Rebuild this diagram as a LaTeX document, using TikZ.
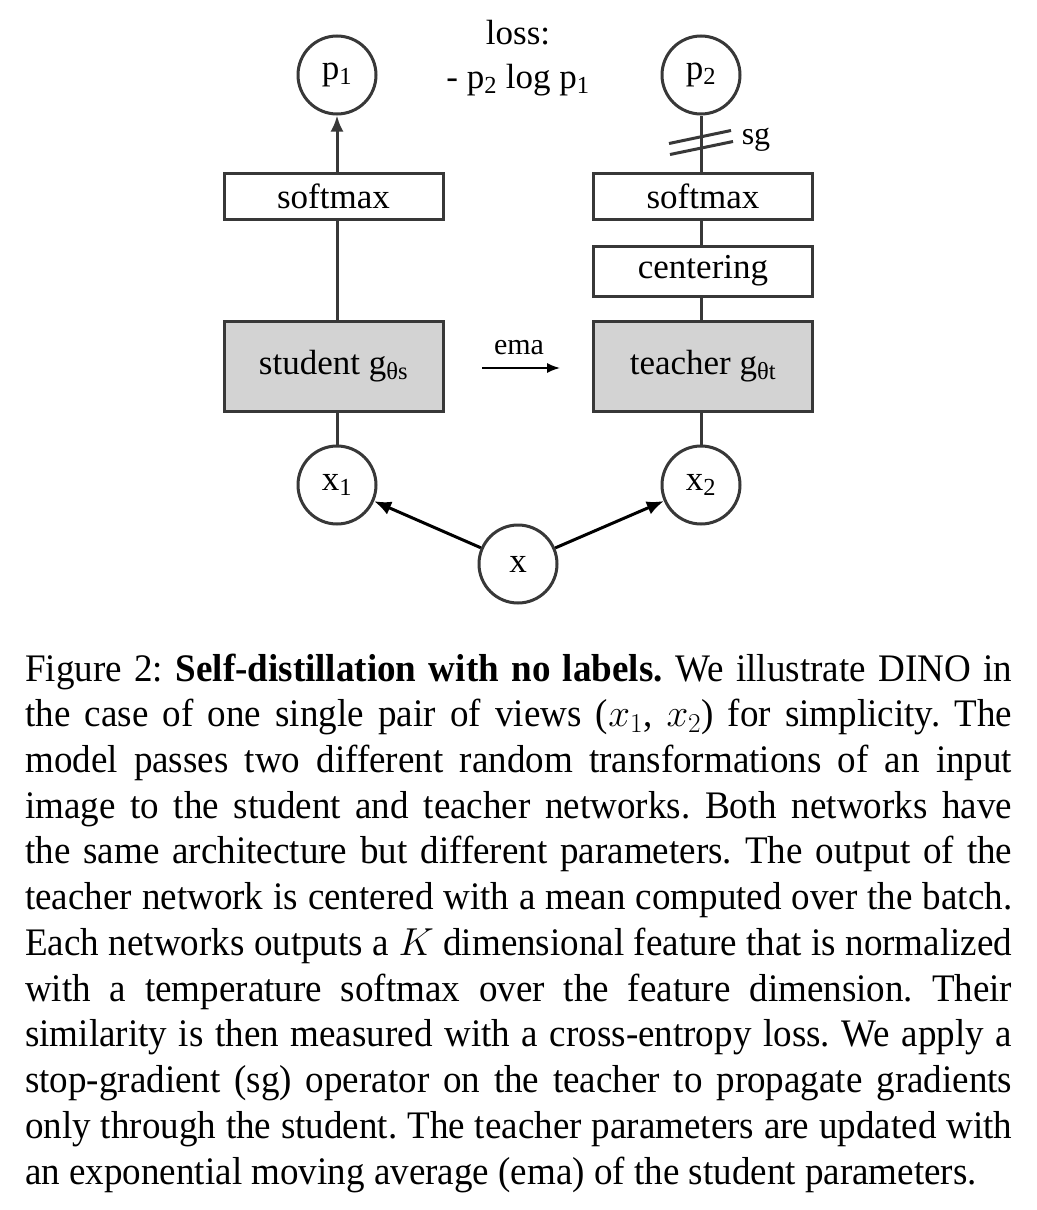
\documentclass[tikz,border=0pt]{standalone}
\usepackage{fix-cm}
\usepackage{fontspec}
\setmainfont{Liberation Serif}
\newfontfamily\capfont[FakeStretch=0.95]{Liberation Serif}
\newfontfamily\figfont{Liberation Serif}
\usetikzlibrary{positioning,arrows.meta,calc}
\definecolor{linegray}{HTML}{383838}
\definecolor{netgray}{HTML}{D3D3D3}
\frenchspacing

\begin{document}
\begin{tikzpicture}[x=1pt,y=-1pt,
    conn/.style={draw=linegray, line width=3pt},
    circ/.style={circle, draw=linegray, line width=3pt, minimum size=78pt, inner sep=0pt},
    opbox/.style={draw=linegray, line width=3pt, minimum width=219pt, minimum height=46pt, inner sep=0pt},
    netbox/.style={opbox, fill=netgray, minimum height=90pt},
    capline/.style={anchor=base west, inner sep=0pt, font=\capfont\fontsize{39}{45.7}\selectfont},
    font=\figfont\fontsize{35}{44}\selectfont]
	\useasboundingbox (0,0) rectangle (1036,1210);
	\fill[white] (0,0) rectangle (1036,1210);
	% outputs and loss
	\node[circ] (p1) at (337,75) {p\textsubscript{1}};
	\node[circ] (p2) at (701,75) {p\textsubscript{2}};
	\node[align=center] (loss) at (518,58) {loss:\\- p\textsubscript{2} log p\textsubscript{1}};
	% student branch
	\node[opbox] (smaxs) at (333.5,196) {softmax};
	\node[netbox] (student) at (333.5,366) {student g\textsubscript{θs}};
	\node[circ] (x1) at (337,485) {x\textsubscript{1}};
	% teacher branch
	\node[opbox] (smaxt) at (703,196) {softmax};
	\node[opbox, minimum height=50pt] (center) at (703,271) {centering};
	\node[netbox] (teacher) at (703,366) {teacher g\textsubscript{θt}};
	\node[circ] (x2) at (701,485) {x\textsubscript{2}};
	% input
	\node[circ] (x) at (518,564) {x};
	% connectors
	\draw[conn, -{Latex[length=16pt,width=13pt]}] (smaxs.north -| p1) -- (p1);
	\draw[conn] (student.north -| p1) -- (smaxs.south -| p1);
	\draw[conn] (x1) -- (student.south -| x1);
	\draw[conn] (smaxt.north -| p2) -- (p2);
	\draw[conn] (center.north -| p2) -- (smaxt.south -| p2);
	\draw[conn] (teacher.north -| p2) -- (center.south -| p2);
	\draw[conn] (x2) -- (teacher.south -| x2);
	\draw[line width=3pt, -{Latex[length=17pt,width=14pt]}] (x) -- (x1);
	\draw[line width=3pt, -{Latex[length=17pt,width=14pt]}] (x) -- (x2);
	% stop-gradient mark
	\coordinate (sg) at ($(p2.south)!0.5!(smaxt.north)$);
	\draw[conn] ([shift={(-33,0)}]sg) -- ([shift={(29,-13)}]sg);
	\draw[conn] ([shift={(-32,11)}]sg) -- ([shift={(31,-2)}]sg);
	\node[font=\figfont\fontsize{32}{36}\selectfont] (sglab) at (756,140) {sg};
	% ema
	\coordinate (emaA) at (482,368);
	\coordinate (emaB) at (560,368);
	\draw[line width=1.6pt, -{Latex[length=13pt,width=10pt]}] (emaA) -- (emaB);
	\node[font=\figfont\fontsize{30}{34}\selectfont, anchor=base] (ema) at (519,354) {ema};
	% caption
	\foreach \txt [count=\i from 0] in {%
		{Figure 2: \textbf{Self-distillation with no labels.} We illustrate DINO in},
		{the case of one single pair of views ($x_1$, $x_2$) for simplicity. The},
		{model passes two different random transformations of an input},
		{image to the student and teacher networks. Both networks have},
		{the same architecture but different parameters. The output of the},
		{teacher network is centered with a mean computed over the batch.},
		{Each networks outputs a $K$ dimensional feature that is normalized},
		{with a temperature softmax over the feature dimension. Their},
		{similarity is then measured with a cross-entropy loss. We apply a},
		{stop-gradient (sg) operator on the teacher to propagate gradients},
		{only through the student. The teacher parameters are updated with}}
		\node[capline] (cap\i) at (25,{681+45.73*\i}) {\makebox[987pt][s]{\txt}};
	\node[capline] (cap11) at (25,{681+45.73*11}) {an exponential moving average (ema) of the student parameters.};
\end{tikzpicture}
\end{document}
